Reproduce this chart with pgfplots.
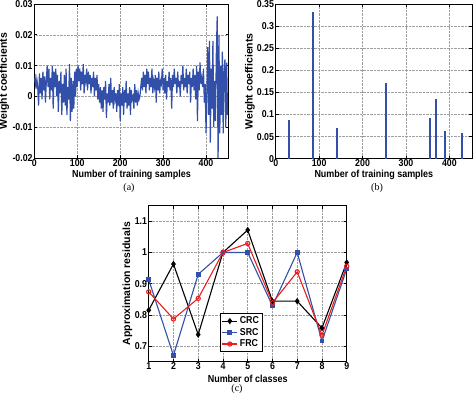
\documentclass[border=0pt]{standalone}
\usepackage{pgfplots}
\pgfplotsset{compat=1.18}
\usepackage{fontspec}
\setmainfont{Liberation Sans}[FakeStretch=0.88]
\newfontfamily\rotfont{Liberation Sans}
\newfontfamily\capfont{Liberation Serif}
\definecolor{mblue}{RGB}{50,80,170}
\definecolor{mred}{RGB}{235,30,30}
\pgfplotsset{mstyle/.style={
  scale only axis,
  axis line style={line width=0.9pt, black},
  every tick/.style={black, line width=0.6pt},
  major tick length=3pt,
  grid=major,
  major grid style={densely dotted, gray!75, line width=0.55pt},
  tick label style={font=\fontsize{10}{11}\selectfont\bfseries},
  xticklabel style={inner sep=1pt},
  yticklabel style={inner sep=1.5pt},
  xlabel style={font=\fontsize{10.2}{11}\selectfont\bfseries, inner sep=0pt, anchor=center, at={(axis description cs:0.5,0)}},
  ylabel style={font=\rotfont\fontsize{10.5}{11}\selectfont\bfseries, inner sep=0pt, anchor=center, at={(axis description cs:0,0.5)}},
}}
\begin{document}
\begin{tikzpicture}[x=1pt,y=1pt]
\path[use as bounding box] (0,0) rectangle (474,396);
% ---------------- (a)
\begin{axis}[mstyle, at={(34.3pt,238pt)}, anchor=south west,
  width=194.5pt, height=154pt,
  xmin=0, xmax=453, ymin=-0.02, ymax=0.03,
  xtick={0,100,200,300,400}, xticklabels={0,100,200,300,400},
  ytick={-0.02,-0.01,0,0.01,0.02,0.03},
  yticklabels={-0.02,-0.01,0,0.01,0.02,0.03},
  xlabel style={yshift=-17pt}, ylabel style={yshift=30pt},
  xlabel={Number of training samples}, ylabel={Weight coefficients}]
\addplot[mblue, line width=1.2pt] coordinates {
(0,0.0045)(2,0.006)(4,0.0025)(6,0.0055)(8,0.003)
(10,-0.003)(12,0.0075)(14,0.001)(16,0.006)(18,-0.001)
(20,0.008)(22,0.002)(24,0.0065)(26,-0.002)(28,0.005)
(30,0.010)(32,0.003)(34,0.009)(36,-0.001)(38,0.006)
(40,0.002)(42,0.010)(44,-0.004)(46,0.008)(48,0.003)
(50,0.009)(52,0.000)(54,0.007)(56,-0.005)(58,0.005)
(60,0.001)(62,0.008)(64,-0.006)(66,0.004)(68,-0.002)
(70,0.007)(72,-0.003)(74,0.009)(76,-0.006)(78,0.003)
(80,-0.001)(82,0.0105)(84,-0.008)(86,0.006)(88,-0.005)
(90,0.005)(92,-0.004)(94,0.008)(96,0.000)(98,0.009)
(100,0.003)(102,0.010)(104,0.005)(106,0.009)(108,0.002)
(110,0.008)(112,0.004)(114,0.0105)(116,0.001)(118,0.007)
(120,0.005)(122,0.009)(124,0.002)(126,0.008)(128,0.004)
(130,0.007)(132,0.001)(134,0.006)(136,0.003)(138,0.008)
(140,0.000)(142,0.006)(144,0.002)(146,0.007)(148,-0.001)
(150,0.004)(152,-0.002)(154,0.003)(156,-0.004)(158,0.002)
(160,-0.005)(162,0.003)(164,-0.001)(166,0.005)(168,-0.007)
(170,0.001)(172,-0.002)(174,0.004)(176,-0.003)(178,0.006)
(180,-0.002)(182,0.002)(184,-0.004)(186,0.003)(188,-0.001)
(190,0.001)(192,-0.005)(194,0.002)(196,-0.003)(198,0.004)
(200,-0.008)(202,0.001)(204,-0.003)(206,0.003)(208,-0.006)
(210,0.002)(212,-0.002)(214,0.005)(216,-0.004)(218,0.001)
(220,-0.003)(222,0.003)(224,-0.006)(226,0.002)(228,-0.001)
(230,0.000)(232,-0.004)(234,0.004)(236,-0.002)(238,0.002)
(240,-0.003)(242,0.001)(244,-0.001)(246,0.000)(248,0.003)
(250,0.006)(252,0.002)(254,0.008)(256,0.003)(258,0.007)
(260,0.001)(262,0.009)(264,0.004)(266,0.008)(268,0.002)
(270,0.006)(272,0.003)(274,0.009)(276,0.001)(278,0.005)
(280,0.003)(282,0.007)(284,-0.002)(286,0.006)(288,0.002)
(290,0.008)(292,0.001)(294,0.005)(296,0.004)(298,0.009)
(300,0.002)(302,0.006)(304,0.001)(306,0.007)(308,-0.001)
(310,0.005)(312,0.003)(314,0.008)(316,0.002)(318,0.006)
(320,-0.004)(322,0.007)(324,0.003)(326,0.009)(328,0.004)
(330,0.006)(332,0.001)(334,0.008)(336,0.003)(338,0.005)
(340,0.000)(342,0.007)(344,0.004)(346,0.010)(348,0.002)
(350,0.006)(352,0.003)(354,0.009)(356,0.001)(358,0.007)
(360,0.004)(362,0.008)(364,-0.002)(366,0.006)(368,0.003)
(370,0.009)(372,0.002)(374,0.007)(376,-0.001)(378,0.010)
(380,-0.008)(382,0.008)(384,0.002)(386,0.011)(388,0.004)
(390,0.006)(392,0.003)(394,0.009)(396,-0.002)(398,0.004)
(400,-0.012)(402,0.002)(404,0.016)(406,-0.006)(408,0.018)
(410,-0.015)(412,0.009)(414,-0.004)(416,0.018)(418,-0.010)
(420,0.005)(422,-0.008)(424,0.014)(426,0.026)(428,-0.022)
(430,0.020)(432,-0.012)(434,0.010)(436,-0.006)(438,0.0145)
(440,-0.012)(442,0.008)(444,0.012)(446,-0.010)(448,0.011)
(450,-0.006)};
\end{axis}
% ---------------- (b)
\begin{axis}[mstyle, at={(275.7pt,237.3pt)}, anchor=south west,
  width=196.3pt, height=154.7pt,
  xmin=0, xmax=452, ymin=0, ymax=0.35,
  xtick={0,100,200,300,400}, xticklabels={0,100,200,300,400},
  ytick={0,0.05,0.1,0.15,0.2,0.25,0.3,0.35},
  yticklabels={0,0.05,0.1,0.15,0.2,0.25,0.3,0.35},
  xlabel style={yshift=-16pt}, ylabel style={yshift=25.7pt},
  xlabel={Number of training samples}, ylabel={Weight coefficients}]
\addplot[mblue, line width=2pt, ycomb] coordinates {
(31,0.087)(86,0.333)(140,0.070)(255,0.172)(356,0.091)(370,0.134)(389,0.062)(430,0.058)};
\end{axis}
% ---------------- (c)
\begin{axis}[mstyle, at={(148.7pt,34.3pt)}, anchor=south west,
  width=198pt, height=156pt,
  xmin=1, xmax=9, ymin=0.65, ymax=1.15,
  xtick={1,2,3,4,5,6,7,8,9}, xticklabels={1,2,3,4,5,6,7,8,9},
  ytick={0.7,0.8,0.9,1,1.1}, yticklabels={0.7,0.8,0.9,1,1.1},
  xlabel style={yshift=-17pt}, ylabel style={yshift=21.4pt},
  xlabel={Number of classes}, ylabel={Approximation residuals},
  legend style={at={(0.36,0.312)}, anchor=north west, draw=black,
    line width=0.6pt, font=\fontsize{10}{11}\selectfont\bfseries,
    inner sep=1.5pt, row sep=-1pt, cells={anchor=west}},
  legend image code/.code={\draw[#1] (0pt,0pt) -- (15pt,0pt); \draw[#1, mark repeat=2, mark phase=2] plot coordinates {(0pt,0pt) (7.5pt,0pt) (15pt,0pt)};}]
\addplot[black, line width=1.1pt, mark=diamond*, mark size=2.3pt, mark options={solid}] coordinates {
(1,0.815)(2,0.963)(3,0.737)(4,1.0)(5,1.072)(6,0.844)(7,0.844)(8,0.758)(9,0.968)};
\addlegendentry{CRC}
\addplot[mblue, line width=1.1pt, mark=square*, mark size=1.8pt] coordinates {
(1,0.913)(2,0.670)(3,0.930)(4,1.0)(5,1.0)(6,0.829)(7,1.0)(8,0.716)(9,0.947)};
\addlegendentry{SRC}
\addplot[mred, line width=1.1pt, mark=o, mark size=2.1pt] coordinates {
(1,0.874)(2,0.787)(3,0.853)(4,1.0)(5,1.029)(6,0.839)(7,0.938)(8,0.735)(9,0.956)};
\addlegendentry{FRC}
\end{axis}
\node[font=\capfont\fontsize{10}{11}\selectfont] at (129,208) {(a)};
\node[font=\capfont\fontsize{10}{11}\selectfont] at (377,208) {(b)};
\node[font=\capfont\fontsize{10}{11}\selectfont] at (237,7) {(c)};
\end{tikzpicture}
\end{document}
